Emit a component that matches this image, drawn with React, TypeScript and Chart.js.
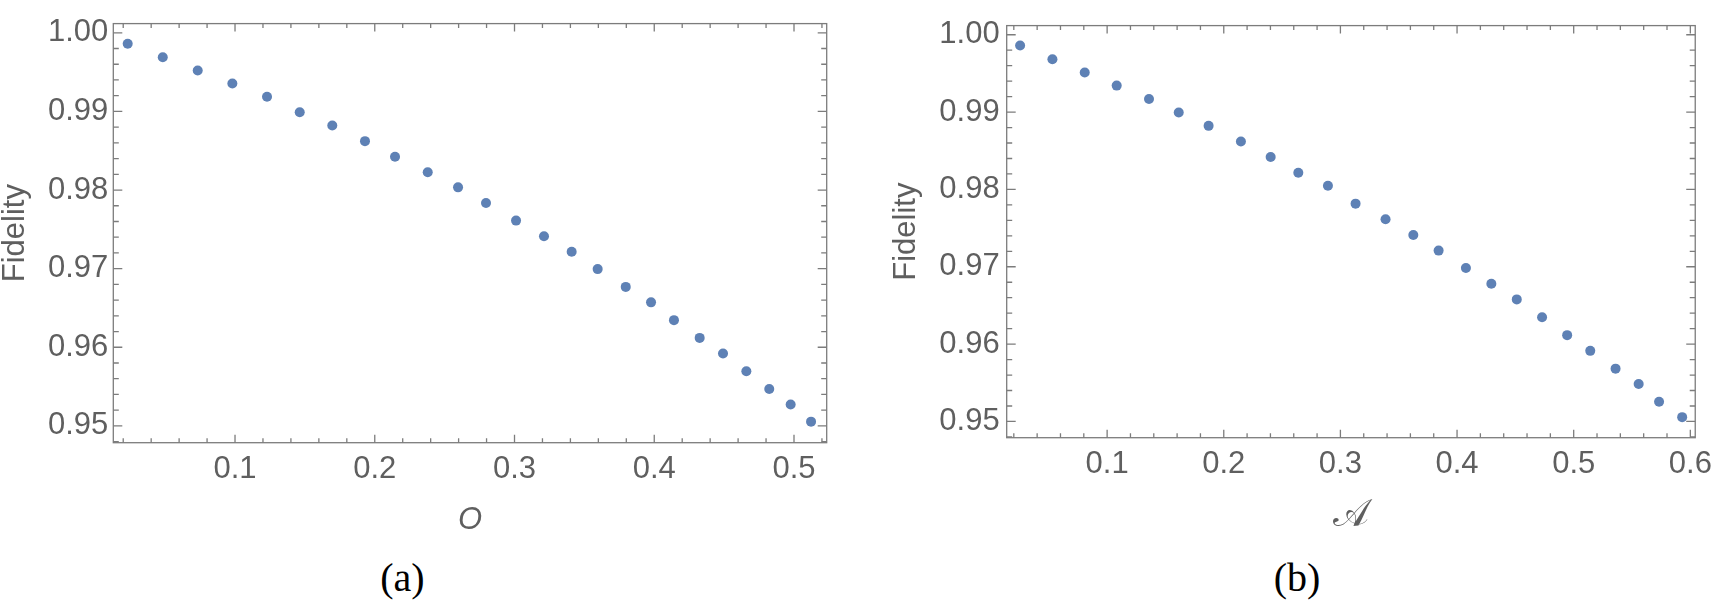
import React, { useEffect, useRef } from "react";
import { Chart, registerables } from "chart.js";

Chart.register(...registerables);

// ---- data ----
const xA = [0.0232, 0.0483, 0.0733, 0.0981, 0.1229, 0.1463, 0.1696, 0.193, 0.2145, 0.2379, 0.2596, 0.2796, 0.3011, 0.3211, 0.3409, 0.3595, 0.3796, 0.3977, 0.4141, 0.4325, 0.4492, 0.4659, 0.4823, 0.4976, 0.5122];
const yA = [0.9986, 0.9969, 0.99521, 0.99356, 0.99186, 0.98989, 0.9882, 0.98622, 0.98424, 0.98227, 0.98034, 0.97836, 0.97611, 0.97412, 0.97215, 0.96994, 0.96768, 0.96571, 0.96345, 0.96119, 0.95921, 0.95695, 0.9547, 0.95272, 0.95054];

const xB = [0.0254, 0.0531, 0.0808, 0.1082, 0.1359, 0.1614, 0.187, 0.2147, 0.2402, 0.2639, 0.2893, 0.313, 0.3387, 0.3625, 0.3842, 0.4076, 0.4294, 0.4512, 0.4729, 0.4944, 0.5142, 0.5359, 0.5557, 0.5732, 0.593];
const yB = [0.99861, 0.99684, 0.99511, 0.99342, 0.99168, 0.98995, 0.98822, 0.9862, 0.98418, 0.98215, 0.98047, 0.97816, 0.97614, 0.97411, 0.97209, 0.96983, 0.9678, 0.96578, 0.96347, 0.96116, 0.95913, 0.95683, 0.95485, 0.95254, 0.95056];

const xTicksA = [0.1, 0.2, 0.3, 0.4, 0.5];
const xTicksB = [0.1, 0.2, 0.3, 0.4, 0.5, 0.6];
const yTicks = [0.95, 0.96, 0.97, 0.98, 0.99, 1.0];

const xRangeA = [0.0129, 0.5234];
const xRangeB = [0.0139, 0.6042];
const yRangeA = [0.94786, 1.00117];
const yRangeB = [0.9479, 1.00118];

const xMinorStep = 0.02;
const yMinorStep = 0.002;

const yTitle = "Fidelity";
const xTitleA = "O";
const xTitleB = "\u{1D49C}";
const captions = ["(a)", "(b)"];

// ---- styles ----
const POINT = "rgb(94,129,181)";
const FRAME = "#7c7c7c";
const LABEL = "#5f5f5f";
const SANS = "'Liberation Sans', Arial, sans-serif";
const CW = 860;
const CH = 545;

const framePlugin = {
  id: "frameTicks",
  afterDraw(chart: any) {
    const { ctx, chartArea: a, scales } = chart;
    const xs = scales.x;
    const ys = scales.y;
    ctx.save();
    ctx.strokeStyle = FRAME;
    ctx.lineWidth = 1.3;
    ctx.strokeRect(a.left, a.top, a.right - a.left, a.bottom - a.top);
    ctx.beginPath();
    const k0x = Math.ceil(xs.min / xMinorStep - 1e-9);
    for (let k = k0x; k * xMinorStep <= xs.max + 1e-12; k++) {
      const px = xs.getPixelForValue(k * xMinorStep);
      const len = k % 5 === 0 ? 8 : 4.5;
      ctx.moveTo(px, a.bottom);
      ctx.lineTo(px, a.bottom - len);
      ctx.moveTo(px, a.top);
      ctx.lineTo(px, a.top + len);
    }
    const k0y = Math.ceil(ys.min / yMinorStep - 1e-9);
    for (let k = k0y; k * yMinorStep <= ys.max + 1e-12; k++) {
      const py = ys.getPixelForValue(k * yMinorStep);
      const len = k % 5 === 0 ? 9 : 5.5;
      ctx.moveTo(a.left, py);
      ctx.lineTo(a.left + len, py);
      ctx.moveTo(a.right, py);
      ctx.lineTo(a.right - len, py);
    }
    ctx.stroke();
    ctx.restore();
  },
};

type PanelProps = {
  xs: number[];
  ys: number[];
  xTicks: number[];
  xRange: number[];
  yRange: number[];
  xTitle: string;
  yAxisW: number;
  xAxisH: number;
  padTop: number;
  padRight: number;
  yLabelPad: number;
  yTitlePad: number;
  xTitlePadBottom: number;
  xTitleFamily: string;
  xTitleStyle: string;
  xTitleSize: number;
};

function Panel(p: PanelProps) {
  const ref = useRef<HTMLCanvasElement | null>(null);
  useEffect(() => {
    if (!ref.current) return;
    const chart = new Chart(ref.current, {
      type: "scatter",
      data: {
        datasets: [
          {
            data: p.xs.map((x, i) => ({ x, y: p.ys[i] })),
            backgroundColor: POINT,
            borderWidth: 0,
            pointRadius: 5,
          },
        ],
      },
      options: {
        animation: false,
        responsive: false,
        devicePixelRatio: 1,
        layout: { padding: { left: 0, top: p.padTop, right: p.padRight, bottom: 0 } },
        plugins: { legend: { display: false }, tooltip: { enabled: false } },
        scales: {
          x: {
            type: "linear",
            min: p.xRange[0],
            max: p.xRange[1],
            grid: { display: false, drawTicks: false },
            border: { display: false },
            afterBuildTicks: (s: any) => {
              s.ticks = p.xTicks.map((value) => ({ value }));
            },
            afterFit: (s: any) => {
              s.height = p.xAxisH;
            },
            ticks: {
              padding: 8,
              color: LABEL,
              maxRotation: 0,
              autoSkip: false,
              font: { family: SANS, size: 31 },
              callback: (v: any) => Number(v).toFixed(1),
            },
            title: {
              display: true,
              text: p.xTitle,
              color: LABEL,
              font: { family: p.xTitleFamily, size: p.xTitleSize, style: p.xTitleStyle as any, lineHeight: 1 },
              padding: { top: 0, bottom: p.xTitlePadBottom },
            },
          },
          y: {
            type: "linear",
            min: p.yRange[0],
            max: p.yRange[1],
            grid: { display: false, drawTicks: false },
            border: { display: false },
            afterBuildTicks: (s: any) => {
              s.ticks = yTicks.map((value) => ({ value }));
            },
            afterFit: (s: any) => {
              s.width = p.yAxisW;
            },
            ticks: {
              padding: p.yLabelPad,
              color: LABEL,
              autoSkip: false,
              font: { family: SANS, size: 31 },
              callback: (v: any) => Number(v).toFixed(2),
            },
            title: {
              display: true,
              text: yTitle,
              color: LABEL,
              font: { family: SANS, size: 31, lineHeight: 1 },
              padding: { top: p.yTitlePad, bottom: 0 },
            },
          },
        },
      },
      plugins: [framePlugin],
    } as any);
    return () => chart.destroy();
  }, []);
  return <canvas ref={ref} width={CW} height={CH} style={{ width: CW, height: CH, display: "block" }} />;
}

const captionStyle: React.CSSProperties = {
  position: "absolute",
  top: 558,
  fontFamily: "'Liberation Serif', 'Times New Roman', serif",
  fontSize: 40,
  lineHeight: "40px",
  color: "#000",
  textAlign: "center",
  width: 100,
};

export default function App() {
  return (
    <div style={{ position: "absolute", left: 0, top: 0, width: 1720, height: 601, background: "#fff", overflow: "hidden" }}>
      <div style={{ position: "absolute", left: 0, top: 0 }}>
        <Panel
          xs={xA}
          ys={yA}
          xTicks={xTicksA}
          xRange={xRangeA}
          yRange={yRangeA}
          xTitle={xTitleA}
          yAxisW={113.3}
          xAxisH={CH - 442.7}
          padTop={2.3}
          padRight={CW - 826.7}
          yLabelPad={5}
          yTitlePad={0}
          xTitlePadBottom={9.5}
          xTitleFamily={SANS}
          xTitleStyle="italic"
          xTitleSize={31}
        />
      </div>
      <div style={{ position: "absolute", left: 860, top: 0 }}>
        <Panel
          xs={xB}
          ys={yB}
          xTicks={xTicksB}
          xRange={xRangeB}
          yRange={yRangeB}
          xTitle={xTitleB}
          yAxisW={146.7}
          xAxisH={CH - 437.7}
          padTop={7}
          padRight={CW - 843.3}
          yLabelPad={7}
          yTitlePad={31}
          xTitlePadBottom={10}
          xTitleFamily={"'DejaVu Sans', 'Noto Sans', serif"}
          xTitleStyle="normal"
          xTitleSize={38}
        />
      </div>
      <div style={{ ...captionStyle, left: 402.5 - 50 }}>{captions[0]}</div>
      <div style={{ ...captionStyle, left: 1297 - 50 }}>{captions[1]}</div>
    </div>
  );
}
